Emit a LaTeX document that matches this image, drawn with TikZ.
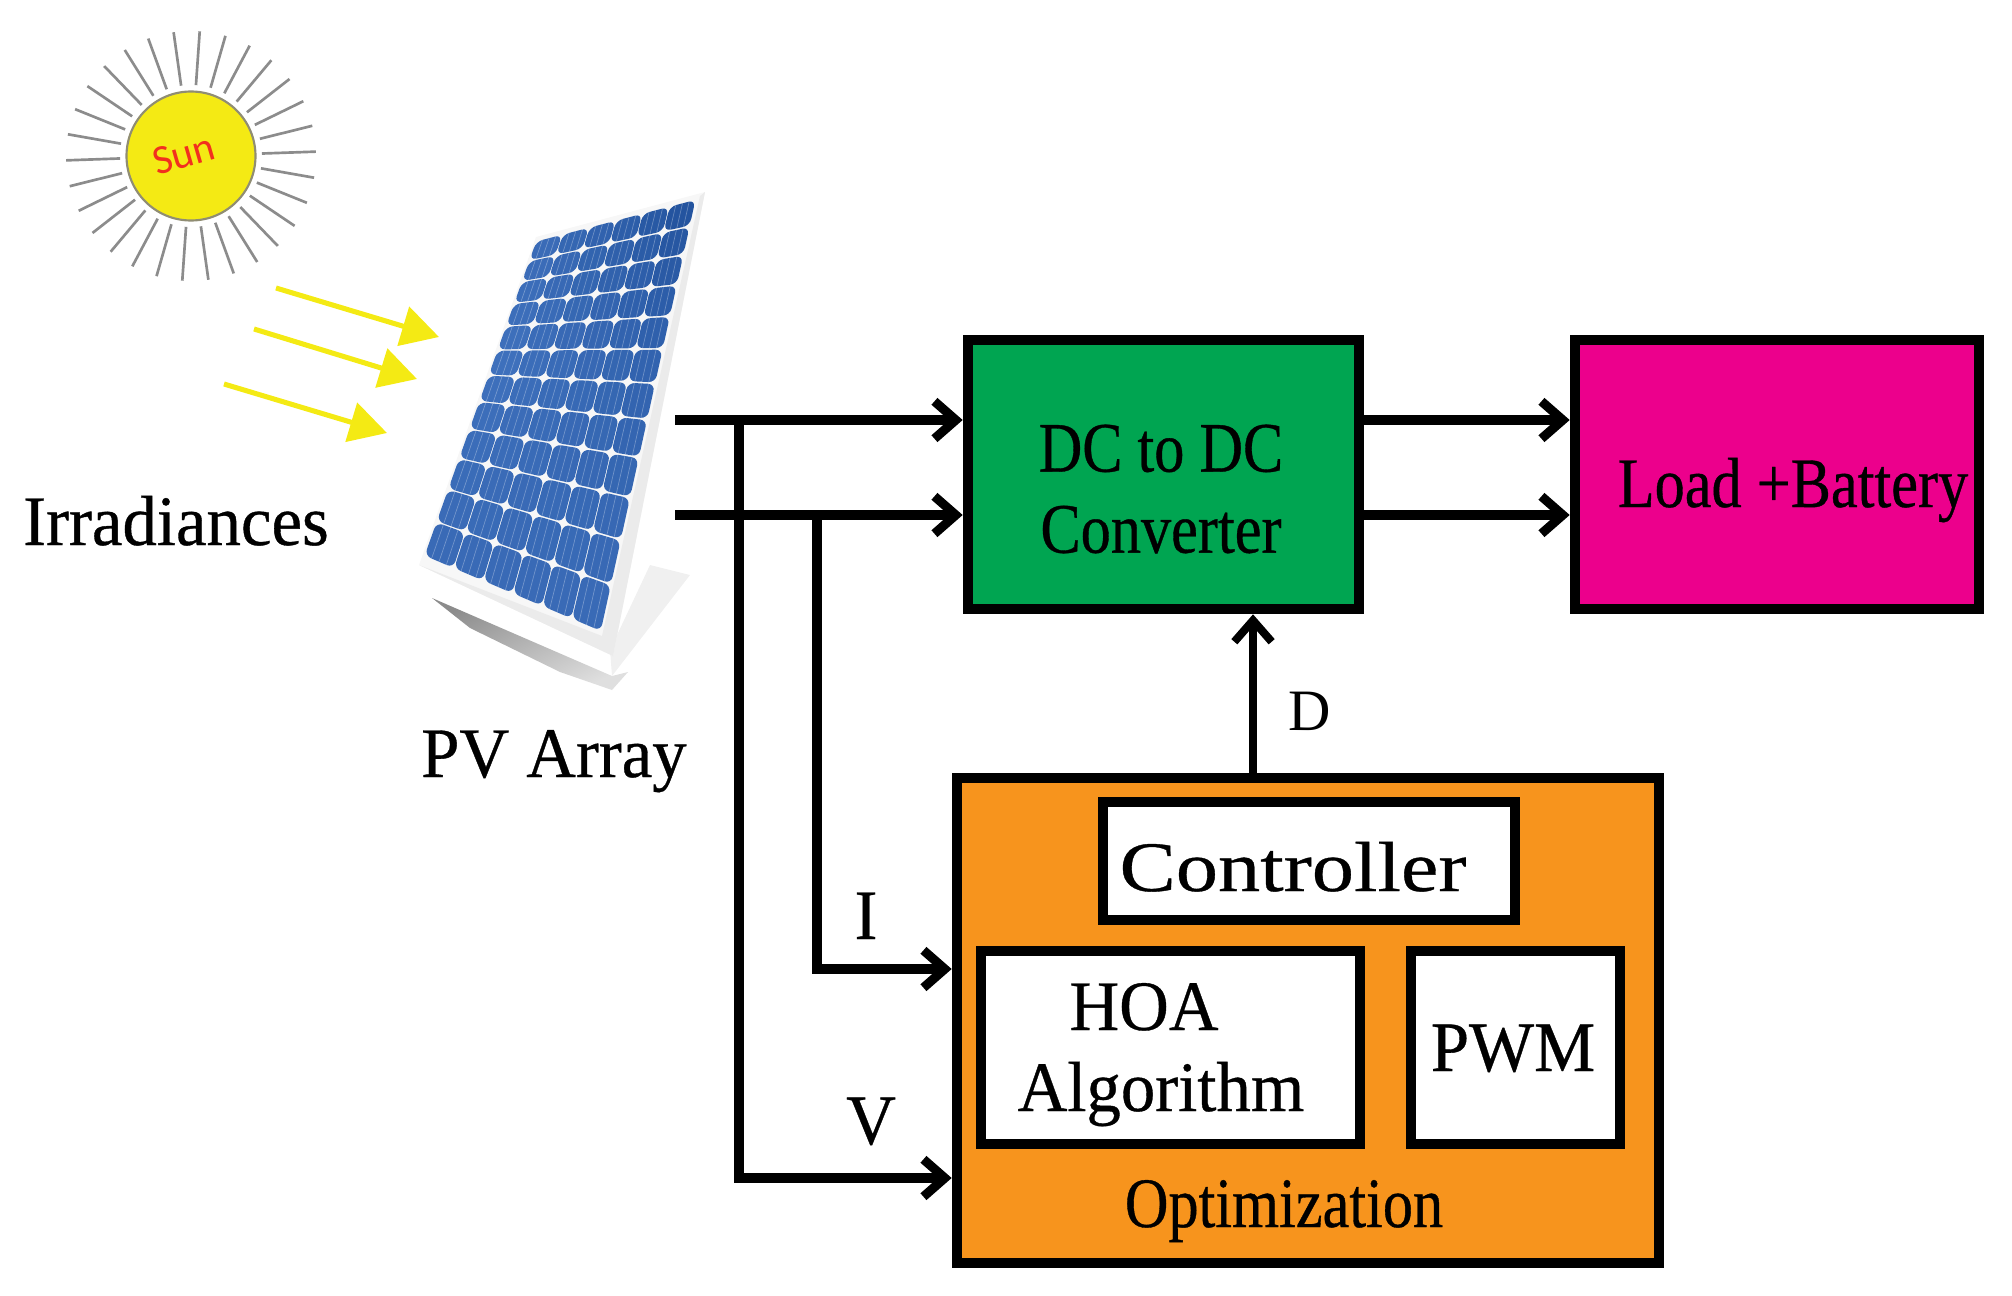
\documentclass[tikz,border=0pt]{standalone}
\usepackage{fontspec}
\usetikzlibrary{arrows.meta}
\setmainfont{Liberation Serif}
\newfontfamily\plainfont[FakeBold=0.5,FakeStretch=0.97]{Liberation Serif}
\newfontfamily\narrowfont[FakeBold=0.5,FakeStretch=0.85]{Liberation Serif}
\newfontfamily\widefont[FakeBold=0.5,FakeStretch=1.19]{Liberation Serif}
\newfontfamily\sunfont{Carlito}

\definecolor{dcgreen}{HTML}{00A551}
\definecolor{loadpink}{HTML}{EC008C}
\definecolor{optorange}{HTML}{F7941D}
\definecolor{sunyellow}{HTML}{F4EA14}
\definecolor{sunred}{HTML}{F2301E}
\definecolor{celldark}{HTML}{1F4F9A}
\definecolor{celllight}{HTML}{3E70BC}

\tikzstyle{block} = [draw, line width = 4pt, inner sep = 0pt]
\tikzstyle{inner block} = [block, fill = white]
\tikzstyle{caption} = [inner sep = 0pt, anchor = base, font = \plainfont\fontsize{26.6}{30}\selectfont]
\tikzstyle{narrow caption} = [caption, font = \narrowfont\fontsize{26.6}{30.4}\selectfont, align = center]
\tikzstyle{wide caption} = [caption, font = \widefont\fontsize{26.6}{30}\selectfont]
\tikzstyle{wire} = [line width = 3.4pt, ->, >={Straight Barb[length = 8pt, width = 14pt]}]
\tikzstyle{ray} = [line width = 1.9pt, sunyellow, -{Triangle[length = 14pt, width = 15pt]}]

\begin{document}
\begin{tikzpicture}[x = 0.375pt, y = -0.375pt,
    declare function = {
      rowpos(\rowv) = \rowv / (\rowv + 1.35 * (12 - \rowv));
      cellx(\alongv,\downv) = (1 - \downv) * (536 + 160 * \alongv) + \downv * (424 + 177 * \alongv);
      celly(\alongv,\downv) = (1 - \downv) * (241 - 42 * \alongv) + \downv * (556 + 76 * \alongv);
    }]
      \useasboundingbox (0, 0) rectangle (2012, 1295);

      % Sun
      \node[circle, draw = gray!80!olive, line width = 0.8pt, fill = sunyellow,
            inner sep = 0pt, minimum size = 129 * 0.375pt] (sun) at (191, 156) {};
      \begin{scope}[shift = {(191, 156)}]
        \foreach \angl in {-2, 10, ..., 346}
        {
          \draw[line width = 1pt, gray!90] (\angl:71) -- (\angl:125);
        }
      \end{scope}
      \node[rotate = 16, text = sunred, inner sep = 0pt,
            font = \sunfont\fontsize{15.5}{15.5}\selectfont] (sunlabel) at (184, 154) {Sun};

      % Yellow arrows
      \coordinate (rayastart) at (276, 288);
      \coordinate (rayaend) at (439, 337);
      \coordinate (raybstart) at (254, 329);
      \coordinate (raybend) at (417, 379);
      \coordinate (raycstart) at (224, 384);
      \coordinate (raycend) at (387, 433);
      \draw[ray] (rayastart) -- (rayaend);
      \draw[ray] (raybstart) -- (raybend);
      \draw[ray] (raycstart) -- (raycend);

      % Panel shadow
      \shade[left color = gray!90, right color = gray!25, shading angle = 25]
        (432, 598) -- (612, 676) -- (628, 672) -- (612, 690) -- (560, 672) -- (470, 628) -- cycle;
      \fill[gray!12] (612, 676) -- (690, 575) -- (650, 565) -- (610, 650) -- cycle;
      % Panel frame
      \fill[gray!6] (536, 237) -- (705, 192) -- (613, 656) -- (419, 565) -- cycle;
      \fill[gray!16] (419, 565) -- (613, 656) -- (705, 192) -- (700, 196) -- (602, 636) -- cycle;
      % Panel cells
      \foreach \rowi in {0, 1, ..., 11}
      {
        \foreach \coli in {0, 1, ..., 5}
        {
          \pgfmathsetmacro{\ta}{rowpos(\rowi) + 0.002}
          \pgfmathsetmacro{\tb}{rowpos(\rowi + 1) - 0.002}
          \pgfmathsetmacro{\ua}{(\coli + 0.015) / 6}
          \pgfmathsetmacro{\ub}{(\coli + 0.985) / 6}
          \pgfmathtruncatemacro{\shademix}{100 - 70 * (\coli / 5) * (1 - \rowi / 11) - 30 * abs(\rowi / 11 - 0.45)}
          \fill[celllight!\shademix!celldark, rounded corners = 2.6pt]
            ({cellx(\ua, \ta)}, {celly(\ua, \ta)}) -- ({cellx(\ub, \ta)}, {celly(\ub, \ta)})
            -- ({cellx(\ub, \tb)}, {celly(\ub, \tb)}) -- ({cellx(\ua, \tb)}, {celly(\ua, \tb)}) -- cycle;
          \foreach \fing in {0.25, 0.5, 0.75}
          {
            \pgfmathsetmacro{\uf}{(\coli + \fing) / 6}
            \draw[line width = 0.25pt, white, opacity = 0.3]
              ({cellx(\uf, \ta)}, {celly(\uf, \ta)}) -- ({cellx(\uf, \tb)}, {celly(\uf, \tb)});
          }
        }
      }

      % Blocks
      \node[block, fill = dcgreen, minimum width = 391 * 0.375pt, minimum height = 269 * 0.375pt] (dcbox) at (1163.5, 474.5) {};
      \node[block, fill = loadpink, minimum width = 404 * 0.375pt, minimum height = 269 * 0.375pt] (loadbox) at (1777, 474.5) {};
      \node[block, fill = optorange, minimum width = 702 * 0.375pt, minimum height = 485 * 0.375pt] (optbox) at (1308, 1020.5) {};
      \node[inner block, minimum width = 412 * 0.375pt, minimum height = 118 * 0.375pt] (controllerbox) at (1309, 861) {};
      \node[inner block, minimum width = 379 * 0.375pt, minimum height = 193 * 0.375pt] (hoabox) at (1170.5, 1047.5) {};
      \node[inner block, minimum width = 209 * 0.375pt, minimum height = 193 * 0.375pt] (pwmbox) at (1515.5, 1047.5) {};

      % Texts
      \node[caption] (irradiances) at (176, 545) {Irradiances};
      \node[caption] (pvarray) at (554, 777) {PV Array};
      \node[narrow caption, anchor = center] (dclabel) at (1161, 489) {DC to DC\\Converter};
      \node[narrow caption] (loadlabel) at (1793, 507) {Load +Battery};
      \node[wide caption] (controllerlabel) at (1293, 891) {Controller};
      \node[caption] (hoalabel) at (1144, 1030) {HOA};
      \node[caption] (algorithmlabel) at (1161, 1111) {Algorithm};
      \node[caption] (pwmlabel) at (1513, 1071) {PWM};
      \node[narrow caption] (optlabel) at (1284, 1227) {Optimization};
      \node[caption] (ilabel) at (866, 939) {I};
      \node[caption] (vlabel) at (871, 1144) {V};
      \node[inner sep = 0pt, anchor = base, font = \fontsize{22}{22}\selectfont] (dlabel) at (1310, 730) {D};

      % Wires
      \coordinate (pvupper) at (675, 420);
      \coordinate (pvlower) at (675, 515);
      \coordinate (vtap) at (739, 420);
      \coordinate (itap) at (817, 515);
      \coordinate (iin) at (817, 969);
      \coordinate (vin) at (739, 1178);
      \coordinate (dtap) at (1253, 773);
      \draw[wire] (pvupper) -- (pvupper -| dcbox.west);
      \draw[wire] (pvlower) -- (pvlower -| dcbox.west);
      \draw[wire] (dcbox.east |- pvupper) -- (loadbox.west |- pvupper);
      \draw[wire] (dcbox.east |- pvlower) -- (loadbox.west |- pvlower);
      \draw[wire] (vtap) -- (vin) -- (vin -| optbox.west);
      \draw[wire] (itap) -- (iin) -- (iin -| optbox.west);
      \draw[wire, line width = 3pt] (dtap) -- (dtap |- dcbox.south);
\end{tikzpicture}
\end{document}
